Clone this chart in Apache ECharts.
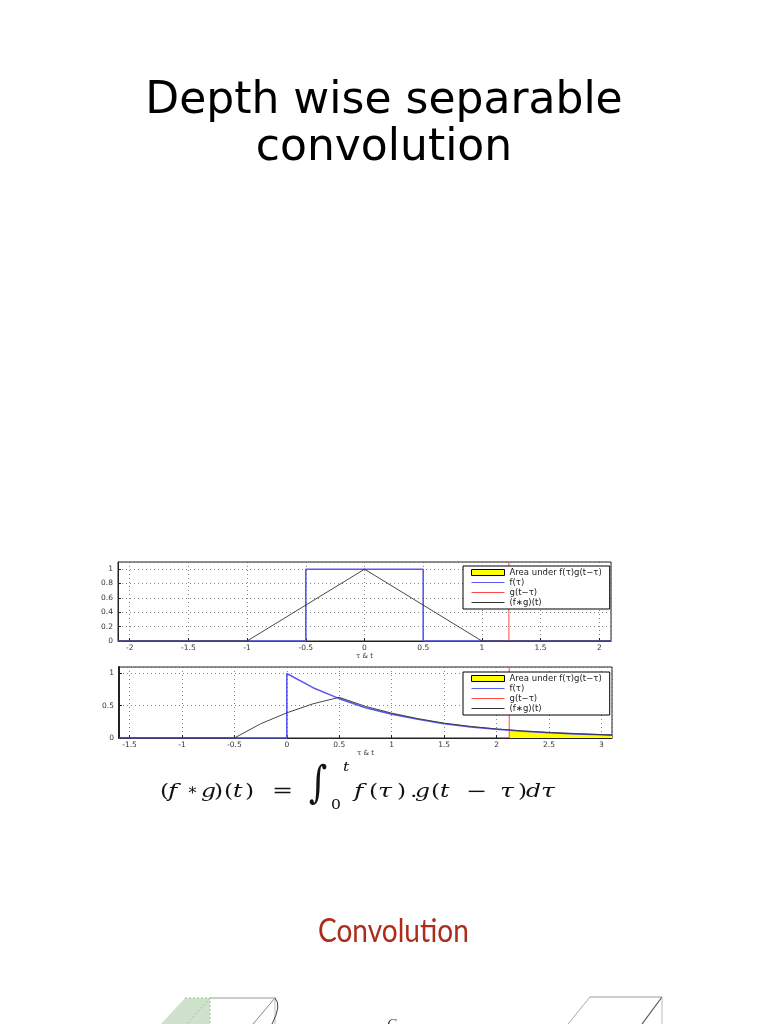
<!DOCTYPE html>
<html>
<head>
<meta charset="utf-8">
<script src="https://cdn.jsdelivr.net/npm/echarts@6/dist/echarts.min.js"></script>
<style>
html,body{margin:0;padding:0;background:#fff;}
#c{width:768px;height:1024px;}
</style>
</head>
<body>
<div id="c"></div>
<script>
// ---- data ----
const seriesNames = ['Area under f(τ)g(t−τ)', 'f(τ)', 'g(t−τ)', '(f∗g)(t)'];

// top panel
const topArea = [];
const topF = [[-2.1,0],[-0.5,0],[-0.5,1],[0.5,1],[0.5,0],[2.1,0]];
const topG = [[1.23,0],[1.23,1.1]];
const topConv = [[-2.1,0],[-1,0],[0,1],[1,0],[2.1,0]];

// bottom panel
const botArea = [[2.12,0.12],[2.25,0.105],[2.5,0.082],[2.75,0.064],[3,0.05],[3.1,0.045]];
const botF = [[-1.6,0],[0,0],[0,1],[0.25,0.78],[0.5,0.61],[0.75,0.47],[1,0.37],[1.25,0.29],[1.5,0.22],[1.75,0.17],[2,0.135],[2.25,0.105],[2.5,0.082],[2.75,0.064],[3,0.05],[3.1,0.045]];
const botG = [[2.12,0],[2.12,1.1]];
const botConv = [[-1.6,0],[-0.5,0],[-0.25,0.22],[0,0.39],[0.25,0.53],[0.5,0.63],[0.75,0.49],[1,0.385],[1.25,0.30],[1.5,0.23],[1.75,0.18],[2,0.14],[2.25,0.11],[2.5,0.086],[2.75,0.067],[3,0.052],[3.1,0.047]];

// axis ranges
const topXRange = [-2.1, 2.1];
const topYRange = [0, 1.1];
const botXRange = [-1.6, 3.1];
const botYRange = [0, 1.1];

const xLabelName = 'τ & t';

// ---- chart ----
const chart = echarts.init(document.getElementById('c'));

const BLUE = '#5a5af0', RED = '#ff4a4a', BLACK = '#333', YELLOW = '#ffff00';
const tickFont = {fontSize: 7.5, color: '#333', fontFamily: 'DejaVu Sans'};
const LINE_ICON = 'path://M0,0H33V1H0Z';

function xAxis(gi, r, split) {
  return {
    type: 'value', gridIndex: gi, min: r[0], max: r[1], splitNumber: split,
    name: xLabelName, nameLocation: 'middle', nameGap: 12,
    nameTextStyle: {fontSize: 7, color: '#333', fontFamily: 'DejaVu Sans'},
    axisLine: {show: true, onZero: false, lineStyle: {color: '#222', width: 1}},
    axisTick: {show: true, inside: true, length: 3, lineStyle: {color: '#222'}},
    axisLabel: Object.assign({margin: 3, showMinLabel: false, showMaxLabel: false}, tickFont),
    splitLine: {show: true, lineStyle: {type: [1, 3], color: '#666', width: 0.8}}
  };
}
function yAxis(gi, r, split) {
  return {
    type: 'value', gridIndex: gi, min: r[0], max: r[1], splitNumber: split,
    axisLine: {show: true, onZero: false, lineStyle: {color: '#222', width: gi === 1 ? 2 : 1}},
    axisTick: {show: true, inside: true, length: 3, lineStyle: {color: '#222'}},
    axisLabel: Object.assign({margin: 5, showMaxLabel: false}, tickFont),
    splitLine: {show: true, lineStyle: {type: [1, 3], color: '#666', width: 0.8}}
  };
}

function panelSeries(idx, area, f, g, conv) {
  return [
    {name: seriesNames[0], type: 'line', xAxisIndex: idx, yAxisIndex: idx, data: area, symbol: 'none',
     lineStyle: {width: 0}, itemStyle: {color: YELLOW}, areaStyle: {color: YELLOW, opacity: 1}, z: 2},
    {name: seriesNames[1], type: 'line', xAxisIndex: idx, yAxisIndex: idx, data: f, symbol: 'none',
     lineStyle: {color: BLUE, width: 1.6}, itemStyle: {color: BLUE}, z: 3},
    {name: seriesNames[2], type: 'line', xAxisIndex: idx, yAxisIndex: idx, data: g, symbol: 'none',
     lineStyle: {color: RED, width: 1}, itemStyle: {color: RED}, z: 3},
    {name: seriesNames[3], type: 'line', xAxisIndex: idx, yAxisIndex: idx, data: conv, symbol: 'none',
     lineStyle: {color: BLACK, width: 0.9}, itemStyle: {color: BLACK}, z: 4}
  ];
}

function legend(top) {
  return {
    left: 463, top: top, orient: 'vertical', selectedMode: false,
    itemWidth: 33, itemHeight: 6, itemGap: 1,
    padding: [2, 8, 2, 8],
    borderColor: '#000', borderWidth: 1, backgroundColor: '#fff',
    textStyle: {fontSize: 8.5, color: '#222', fontFamily: 'DejaVu Sans', lineHeight: 9},
    data: [
      {name: seriesNames[0], icon: 'rect', itemStyle: {color: YELLOW, borderColor: '#000', borderWidth: 1}},
      {name: seriesNames[1], icon: LINE_ICON, itemStyle: {color: BLUE}},
      {name: seriesNames[2], icon: LINE_ICON, itemStyle: {color: RED}},
      {name: seriesNames[3], icon: LINE_ICON, itemStyle: {color: BLACK}}
    ],
    z: 10
  };
}

// formula tokens: [text, x, y, fontSize, italic, scaleX]
const formula = [
  ['(', 160, 792, 18, false, 1.3], ['f', 168, 792, 18, true, 1.4], ['∗', 187, 791, 16, false, 1.0],
  ['g', 201, 792, 18, true, 1.3], [')', 214, 792, 18, false, 1.3], ['(', 224, 792, 18, false, 1.3],
  ['t', 233, 792, 18, true, 1.3], [')', 245, 792, 18, false, 1.3], ['=', 272, 792, 18, false, 1.4],
  ['∫', 309, 786, 44, false, 0.8], ['t', 343, 768, 13, true, 1.2], ['0', 331, 806, 13, false, 1.2],
  ['f', 354, 792, 18, true, 1.4], ['(', 369, 792, 18, false, 1.3], ['τ', 378, 792, 18, true, 1.4],
  [')', 397, 792, 18, false, 1.3], ['.', 410, 792, 18, false, 1.3], ['g', 415, 792, 18, true, 1.3],
  ['(', 431, 792, 18, false, 1.3], ['t', 440, 792, 18, true, 1.3], ['−', 466, 792, 18, false, 1.4],
  ['τ', 500, 792, 18, true, 1.4], [')', 518, 792, 18, false, 1.3], ['d', 526, 792, 18, true, 1.3],
  ['τ', 541, 792, 18, true, 1.4]
];

const graphics = formula.map(function (t) {
  return {
    type: 'text', x: t[1], y: t[2], scaleX: t[5],
    style: {text: t[0], fill: '#111', textAlign: 'left', textVerticalAlign: 'middle',
      font: (t[4] ? 'italic ' : '') + t[3] + 'px "DejaVu Serif", "Liberation Serif", serif'}
  };
});

graphics.push({
  type: 'text', x: 318, y: 931, scaleX: 0.85,
  style: {text: 'Convolution', fill: '#ad2d1c', textAlign: 'left', textVerticalAlign: 'middle',
    font: '33px Lato, "Open Sans", sans-serif'}
});

// decorative boxes at the bottom
graphics.push(
  {type: 'polygon', shape: {points: [[185,998],[210,998],[210,1024],[161,1024]]}, style: {fill: '#cfe3cc', stroke: null}},
  {type: 'polyline', shape: {points: [[185,998],[210,998],[210,1024]]}, style: {stroke: '#9cbf98', lineDash: [2,2], lineWidth: 1, fill: null}},
  {type: 'polyline', shape: {points: [[210,998],[187,1024]]}, style: {stroke: '#9cbf98', lineDash: [2,2], lineWidth: 1, fill: null}},
  {type: 'line', shape: {x1: 210, y1: 998, x2: 275, y2: 998}, style: {stroke: '#999', lineWidth: 1}},
  {type: 'line', shape: {x1: 275, y1: 998, x2: 253, y2: 1024}, style: {stroke: '#888', lineWidth: 1}},
  {type: 'line', shape: {x1: 275, y1: 997, x2: 275, y2: 1024}, style: {stroke: '#bbb', lineWidth: 1}},
  {type: 'bezierCurve', shape: {x1: 275, y1: 998, cpx1: 282, cpy1: 1005, x2: 272, y2: 1024}, style: {stroke: '#444', lineWidth: 1, fill: null}},
  {type: 'line', shape: {x1: 590, y1: 997, x2: 662, y2: 997}, style: {stroke: '#999', lineWidth: 1}},
  {type: 'line', shape: {x1: 590, y1: 997, x2: 568, y2: 1024}, style: {stroke: '#aaa', lineWidth: 1}},
  {type: 'line', shape: {x1: 662, y1: 997, x2: 642, y2: 1024}, style: {stroke: '#555', lineWidth: 1.2}},
  {type: 'line', shape: {x1: 662, y1: 997, x2: 662, y2: 1024}, style: {stroke: '#bbb', lineWidth: 1}},
  {type: 'text', x: 387, y: 1018, style: {text: 'C', fill: '#333', font: 'italic 14px "Liberation Serif", serif', textVerticalAlign: 'top'}}
);

const option = {
  animation: false,
  backgroundColor: '#fff',
  title: {
    text: 'Depth wise separable\nconvolution',
    left: 'center', top: 73,
    textStyle: {fontFamily: 'DejaVu Sans', fontSize: 44, fontWeight: 'normal', color: '#000', lineHeight: 47}
  },
  grid: [
    {left: 118, top: 562, width: 493, height: 79, show: true, borderColor: '#222', borderWidth: 1, backgroundColor: 'transparent'},
    {left: 119, top: 667, width: 493, height: 71, show: true, borderColor: '#222', borderWidth: 1, backgroundColor: 'transparent'}
  ],
  xAxis: [xAxis(0, topXRange, 8), xAxis(1, botXRange, 9)],
  yAxis: [yAxis(0, topYRange, 5), yAxis(1, botYRange, 2)],
  legend: [legend(566), legend(672)],
  series: panelSeries(0, topArea, topF, topG, topConv).concat(panelSeries(1, botArea, botF, botG, botConv)),
  graphic: graphics
};
chart.setOption(option);
</script>
</body>
</html>
